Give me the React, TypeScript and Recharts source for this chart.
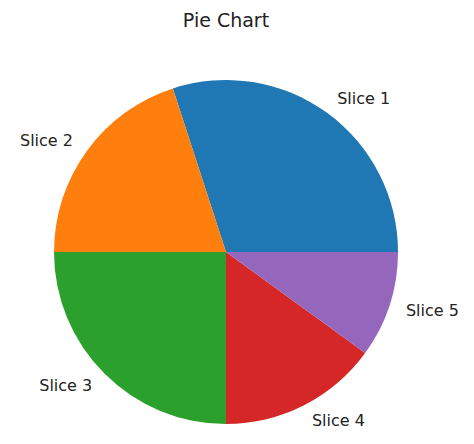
import { Pie, PieChart, Cell } from "recharts";

const labels = ["Slice 1", "Slice 2", "Slice 3", "Slice 4", "Slice 5"];
const values = [30, 20, 25, 15, 10];
const colors = ["#1f77b4", "#ff7f0e", "#2ca02c", "#d62728", "#9467bd"];

const data = labels.map((name, i) => ({ name, value: values[i] }));

const RADIAN = Math.PI / 180;

// matplotlib puts labels at 1.1 * radius, left/right aligned by side
function renderLabel(props: any) {
  const { cx, cy, midAngle, outerRadius, name } = props;
  const r = outerRadius * 1.1;
  const x = cx + r * Math.cos(midAngle * RADIAN);
  const y = cy - r * Math.sin(midAngle * RADIAN);
  const anchor = Math.cos(midAngle * RADIAN) >= 0 ? "start" : "end";
  return (
    <text
      x={x}
      y={y}
      textAnchor={anchor}
      dominantBaseline="central"
      fill="#222"
      fontSize={16}
      fontFamily="DejaVu Sans"
    >
      {name}
    </text>
  );
}

export default function App() {
  return (
    <div
      style={{
        position: "absolute",
        left: 0,
        top: 0,
        width: 474,
        height: 444,
        background: "#fff",
        fontFamily: "DejaVu Sans",
      }}
    >
      <div
        style={{
          position: "absolute",
          top: 9,
          left: 126,
          width: 200,
          textAlign: "center",
          fontSize: 19,
          color: "#222",
        }}
      >
        Pie Chart
      </div>
      <PieChart width={474} height={444} margin={{ top: 0, right: 0, bottom: 0, left: 0 }}>
        <Pie
          data={data}
          dataKey="value"
          nameKey="name"
          cx={226}
          cy={252}
          outerRadius={172}
          startAngle={0}
          endAngle={360}
          stroke="none"
          label={renderLabel}
          labelLine={false}
          isAnimationActive={false}
        >
          {data.map((d, i) => (
            <Cell key={d.name} fill={colors[i]} />
          ))}
        </Pie>
      </PieChart>
    </div>
  );
}
